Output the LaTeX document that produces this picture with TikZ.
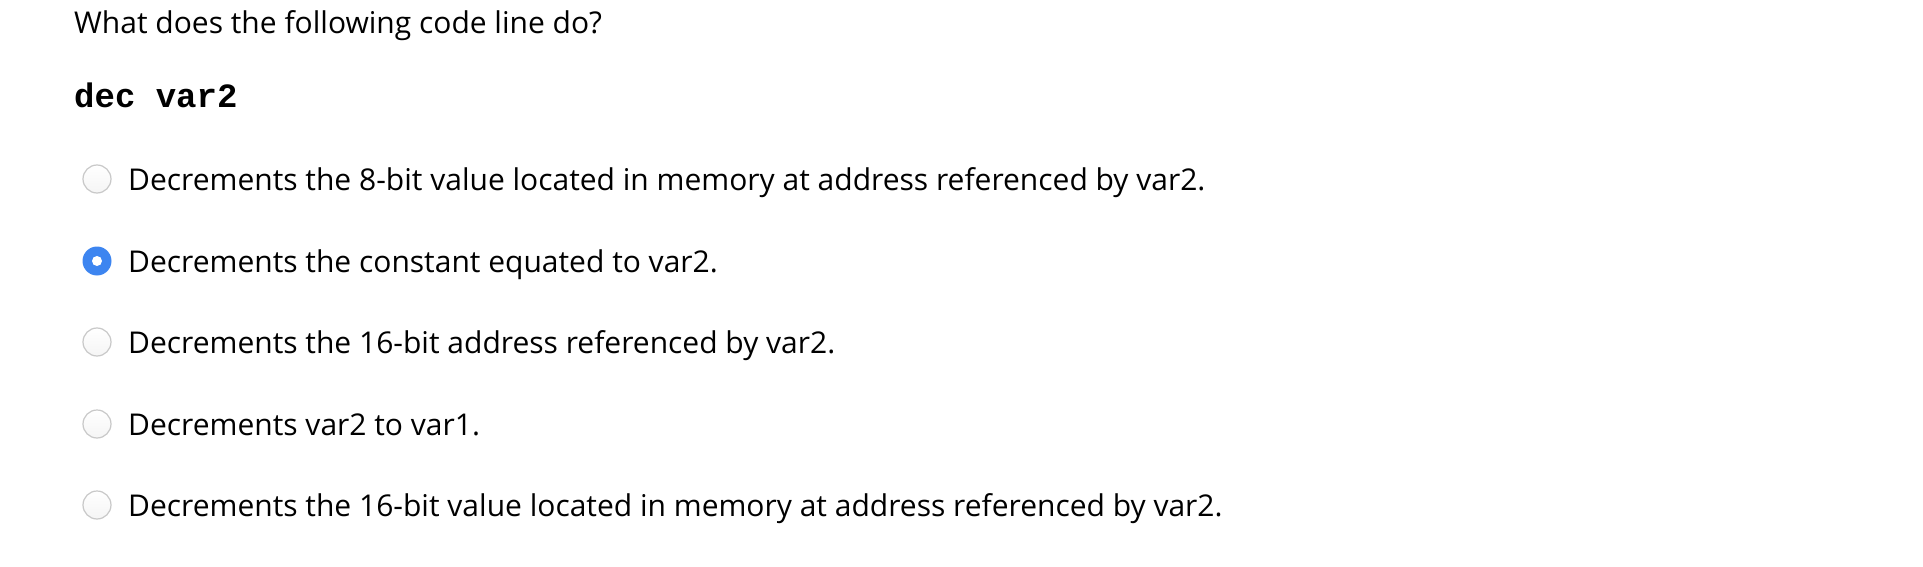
\documentclass[tikz,border=0pt]{standalone}
\usepackage{fontspec}
\setmainfont{Open Sans}
\setmonofont{Liberation Mono}
\definecolor{radioblue}{HTML}{3D85F0}
\definecolor{radiogray}{HTML}{C8C8C8}
\begin{document}
\begin{tikzpicture}[x=1pt,y=-1pt,
  opt/.style={anchor=base west,inner sep=0pt,font=\fontsize{30}{36}\selectfont},
  radio/.style={circle,draw=radiogray,line width=1.2pt,minimum size=28pt,inner sep=0pt,top color=white,bottom color=gray!8},
  radiosel/.style={circle,fill=radioblue,minimum size=29pt,inner sep=0pt}]
\useasboundingbox (0,0) rectangle (1923,567);
\node[opt] (q) at (74,34) {What does the following code line do?};
\node[anchor=base west,inner sep=0pt,font=\ttfamily\bfseries\fontsize{34}{40}\selectfont] (code) at (74,108) {dec\hspace{0.6em}var2};
\node[radio] (r1) at (97,179) {};
\node[opt] (t1) at (128,190) {Decrements the 8-bit value located in memory at address referenced by var2.};
\node[radiosel] (r2) at (97,261) {};
\node[circle,fill=white,minimum size=10pt,inner sep=0pt] (r2c) at (r2) {};
\node[opt] (t2) at (128,272) {Decrements the constant equated to var2.};
\node[radio] (r3) at (97,342) {};
\node[opt] (t3) at (128,353) {Decrements the 16-bit address referenced by var2.};
\node[radio] (r4) at (97,424) {};
\node[opt] (t4) at (128,435) {Decrements var2 to var1.};
\node[radio] (r5) at (97,505) {};
\node[opt] (t5) at (128,516) {Decrements the 16-bit value located in memory at address referenced by var2.};
\end{tikzpicture}
\end{document}
